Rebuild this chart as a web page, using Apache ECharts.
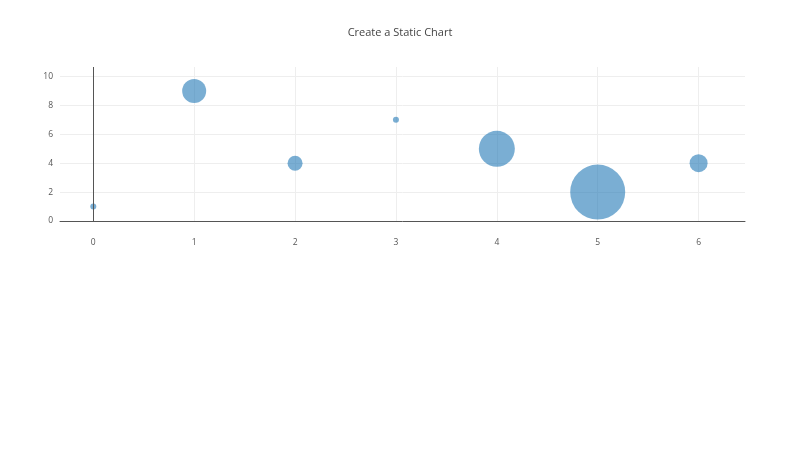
<!DOCTYPE html>
<html>
<head>
<meta charset="utf-8">
<script src="https://cdn.jsdelivr.net/npm/echarts@6/dist/echarts.min.js"></script>
<style>html,body{margin:0;padding:0;background:#fff}#c{width:800px;height:450px}</style>
</head>
<body>
<div id="c"></div>
<script>
const xValues = [0, 1, 2, 3, 4, 5, 6];
const yValues = [1, 9, 4, 7, 5, 2, 4];
const bubbleSizes = [6, 24, 15, 6, 36, 55, 18];
const xTicks = [0, 1, 2, 3, 4, 5, 6];
const yTicks = [0, 2, 4, 6, 8, 10];

const chart = echarts.init(document.getElementById('c'));
const font = '"Open Sans", "Noto Sans", sans-serif';
chart.setOption({
  animation: false,
  title: {
    text: 'Create a Static Chart',
    left: 'center', top: 22,
    textStyle: { fontFamily: font, fontSize: 11, fontWeight: 'normal', color: '#444' }
  },
  grid: { left: 60, right: 55, top: 67, bottom: 229, containLabel: false },
  xAxis: {
    type: 'value', min: -0.33, max: 6.46,
    axisLine: { show: true, onZero: true, lineStyle: { color: '#555', width: 1 } },
    axisTick: { show: false, customValues: xTicks },
    axisLabel: { customValues: xTicks, color: '#555', fontFamily: font, fontSize: 8.5, margin: 17 },
    splitLine: { show: true, lineStyle: { color: '#eee', width: 1 } }
  },
  yAxis: {
    type: 'value', min: 0, max: 10.66,
    axisLine: { show: false },
    axisTick: { show: false, customValues: yTicks },
    axisLabel: { customValues: yTicks, color: '#555', fontFamily: font, fontSize: 8.5, margin: 7 },
    splitLine: { show: true, lineStyle: { color: '#eee', width: 1 } }
  },
  series: [{
    type: 'scatter',
    data: xValues.map((x, i) => [x, yValues[i], bubbleSizes[i]]),
    symbolSize: d => d[2],
    itemStyle: { color: 'rgba(31,119,180,0.74)' },
    markLine: {
      silent: true, symbol: 'none', label: { show: false },
      lineStyle: { color: '#555', width: 1, type: 'solid' },
      data: [{ xAxis: 0 }]
    }
  }]
});
</script>
</body>
</html>
